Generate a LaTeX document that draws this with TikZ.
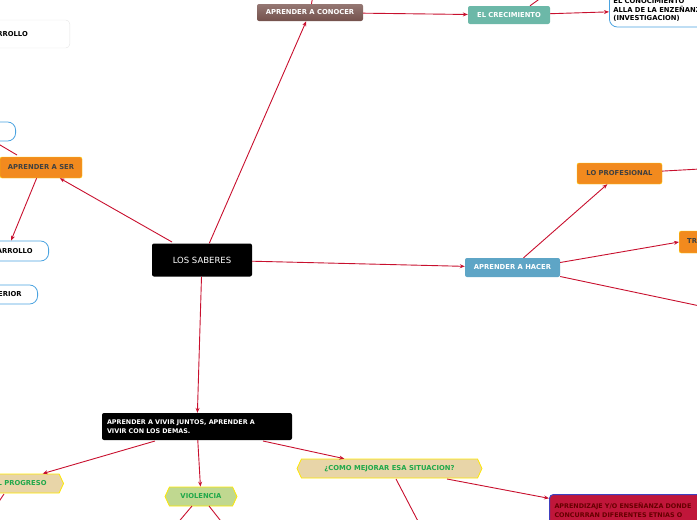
\documentclass[tikz,border=0pt]{standalone}
\usepackage{fontspec}
\setmainfont{DejaVu Sans}
\usetikzlibrary{arrows.meta,shapes.symbols}
\definecolor{edgered}{HTML}{C8102E}
\definecolor{brownn}{HTML}{7A5550}
\definecolor{teal}{HTML}{6CB8A8}
\definecolor{hacer}{HTML}{5EA5C6}
\definecolor{orng}{HTML}{F28A1E}
\definecolor{tan}{HTML}{E8D5A8}
\definecolor{vio}{HTML}{C0D890}
\definecolor{grn}{HTML}{1FA84A}
\definecolor{bluel}{HTML}{4AA3E0}
\definecolor{redn}{HTML}{C0163A}
\tikzset{
 base/.style={font=\fontsize{6.8}{8}\selectfont\bfseries, inner sep=0pt, rounded corners=2pt},
 blk/.style={base, fill=black, text=white},
 orgbox/.style={base, fill=orng, draw=yellow!70!orange, text=black!75},
 outl/.style={base, draw=bluel, fill=white, rounded corners=8pt, line width=0.8pt},
 hexa/.style={signal, signal to=east and west, signal pointer angle=130, inner sep=0pt, draw=yellow!90!orange, line width=0.8pt, font=\fontsize{6.8}{8}\selectfont\bfseries, text=grn},
 arr/.style={draw=edgered, line width=0.9pt, -{Stealth[length=5pt,width=4pt]}},
 ln/.style={draw=edgered, line width=0.9pt}
}
\begin{document}
\begin{tikzpicture}[x=1pt,y=-1pt]
\useasboundingbox (0,0) rectangle (697,520);
\clip (0,0) rectangle (697,520);
% nodes
\node[blk, minimum width=100, minimum height=33, font=\fontsize{8.5}{10}\selectfont] (sab) at (202,260) {LOS SABERES};
\node[base, top color=brownn!80, bottom color=brownn!95!black, text=white, minimum width=106, minimum height=17] (con) at (310,12.5) {APRENDER A CONOCER};
\node[base, fill=teal, text=white, minimum width=82, minimum height=18] (cre) at (509,15) {EL CRECIMIENTO};
\node[outl, anchor=west, minimum height=34, text width=110, align=left, inner sep=4pt, font=\fontsize{6.8}{8.5}\selectfont\bfseries] (inv) at (609,10) {EL CONOCIMIENTO\\ALLA DE LA ENZEÑANZA\\(INVESTIGACION)};
\node[base, draw=black!10, fill=white, rounded corners=4pt, anchor=east, minimum width=120, minimum height=28] (des1) at (70,34) {\makebox[112pt][r]{DESARROLLO\hspace{38pt}}};
\node[outl, anchor=east, minimum width=60, minimum height=19] (b1) at (16,131.5) {};
\node[orgbox, minimum width=82, minimum height=21] (ser) at (41,167.5) {APRENDER A SER};
\node[outl, anchor=east, minimum width=100, minimum height=20] (des2) at (49,251) {\makebox[92pt][r]{DESARROLLO\hspace{12pt}}};
\node[outl, anchor=east, minimum width=100, minimum height=19] (int) at (38,294.5) {\makebox[92pt][r]{INTERIOR\hspace{12pt}}};
\node[base, fill=hacer, text=white, minimum width=95, minimum height=19] (hac) at (512.5,267.5) {APRENDER A HACER};
\node[orgbox, minimum width=85, minimum height=21] (pro) at (619.5,173.5) {LO PROFESIONAL};
\node[orgbox, anchor=west, minimum width=80, minimum height=22] (tra) at (679,242) {\makebox[72pt][l]{\hspace{4pt}TRABAJO}};
\node[blk, minimum width=190, minimum height=27, align=left, text width=180, font=\fontsize{6.4}{9}\selectfont\bfseries] (viv) at (197,426.5) {APRENDER A VIVIR JUNTOS, APRENDER A\\VIVIR CON LOS DEMAS.};
\node[hexa, fill=tan, anchor=east, minimum width=110, minimum height=19] (prog) at (64,483.5) {\makebox[96pt][r]{EL PROGRESO\hspace{10pt}}};
\node[hexa, fill=vio, minimum width=72, minimum height=19] (vio) at (201,496.5) {VIOLENCIA};
\node[hexa, fill=tan, minimum width=185, minimum height=19] (com) at (389.5,468.5) {¿COMO MEJORAR ESA SITUACION?};
\node[base, fill=redn, draw=blue!50!gray, line width=1pt, rounded corners=4pt, anchor=north west, minimum width=170, minimum height=40, text width=160, align=left, inner sep=4pt, text=red!40!black, font=\fontsize{6.4}{8.5}\selectfont\bfseries] (red) at (549,494) {APRENDIZAJE Y/O ENSEÑANZA DONDE\\CONCURRAN DIFERENTES ETNIAS O\\RELIGIONES};
% coordinates for off-canvas ends
\coordinate (t1) at (313,-5);
\coordinate (t2) at (545,-5);
\coordinate (r1) at (700,169);
\coordinate (r2) at (700,306);
\coordinate (l1) at (-5,142);
\coordinate (d1) at (176,525);
\coordinate (d2) at (224,525);
\coordinate (d3) at (420,525);
\coordinate (d4) at (-2,503);
% edges
\draw[arr] (172,242) -- (ser);
\draw[arr] (sab) -- (con);
\draw[arr] (sab) -- (hac);
\draw[arr] (sab) -- (viv);
\draw[arr] (ser) -- (des2.north -| 11,0);
\draw[arr] (con) -- (cre);
\draw[arr] (cre) -- (inv);
\draw[arr] (hac) -- (pro);
\draw[arr] (hac.east) ++(0,-5) -- (tra.west);
\draw[ln] (hac.east) ++(0,9) -- (r2);
\draw[ln] (pro) -- (r1);
\draw[ln] (con) -- (t1);
\draw[ln] (cre.north) ++(21,0) -- (t2);
\draw[ln] (17,155) -- (l1);
\draw[arr] (155,441) -- (prog);
\draw[arr] (viv) -- (vio);
\draw[arr] (263,441) -- (com);
\draw[arr] (447,479) -- (red);
\draw[ln] (192,506) -- (d1);
\draw[ln] (209,506) -- (d2);
\draw[ln] (396,479) -- (d3);
\draw[ln] (4,494) -- (d4);
\end{tikzpicture}
\end{document}
